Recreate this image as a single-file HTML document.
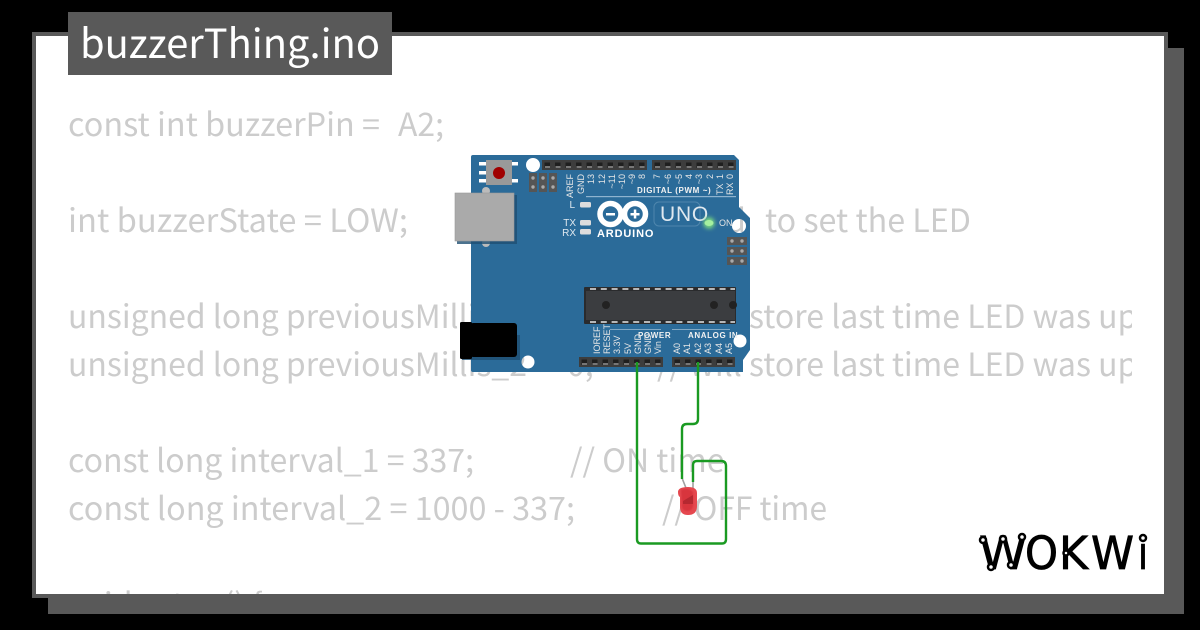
<!DOCTYPE html>
<html><head><meta charset="utf-8"><style>
html,body{margin:0;padding:0;background:#000;width:1200px;height:630px;overflow:hidden}
svg{display:block}
.c{font-family:"Noto Sans CJK JP","Liberation Sans",sans-serif;font-size:32px;fill:#ccc}
.l{font-family:"Liberation Sans",sans-serif;font-size:9px;fill:#e6e6e6}
.s{font-family:"Liberation Sans",sans-serif;font-size:10px;fill:#dfe8ef}
.b{font-family:"Liberation Sans",sans-serif;font-size:8px;font-weight:bold;fill:#f2f2f2;letter-spacing:.6px}
.w{font-family:"DejaVu Sans",sans-serif;font-size:45px;fill:#000;stroke:#000;stroke-width:.8}
</style></head><body>
<svg width="1200" height="630" viewBox="0 0 1200 630" xmlns="http://www.w3.org/2000/svg">
<defs>
<clipPath id="cp"><rect x="36" y="36" width="1096" height="558"/></clipPath>
<filter id="gl" x="-100%" y="-100%" width="300%" height="300%"><feGaussianBlur stdDeviation="2"/></filter>
<filter id="sb" x="-20%" y="-20%" width="140%" height="140%"><feGaussianBlur stdDeviation=".8"/></filter>
<g id="pin"><rect x="0" y="0" width="10.5" height="10" fill="#3d3d3d"/><rect x="2.5" y="2.5" width="5.5" height="5.5" fill="#1f1f1f"/><rect x="3" y="6" width="5" height="2" fill="#777"/></g>
</defs>
<rect width="1200" height="630" fill="#000"/>
<rect x="48" y="48" width="1136" height="566" fill="#595959"/>
<rect x="32" y="32" width="1136" height="566" fill="#595959"/>
<rect x="36" y="36" width="1128" height="558" fill="#fff"/>
<rect x="68" y="12" width="324" height="63" fill="#595959"/>
<text x="80" y="58" font-family="'Noto Sans CJK JP','Liberation Sans',sans-serif" font-size="40" fill="#fff" textLength="300" lengthAdjust="spacingAndGlyphs">buzzerThing.ino</text>
<g clip-path="url(#cp)" class="c">
<text x="68" y="136" textLength="312" lengthAdjust="spacingAndGlyphs">const int buzzerPin =</text>
<text x="398" y="136" textLength="46" lengthAdjust="spacingAndGlyphs">A2;</text>
<text x="68" y="232" textLength="340" lengthAdjust="spacingAndGlyphs">int buzzerState = LOW;</text>
<text x="746" y="232" text-anchor="end">used</text>
<text x="765" y="232" textLength="206" lengthAdjust="spacingAndGlyphs">to set the LED</text>
<text x="68" y="328" textLength="459" lengthAdjust="spacingAndGlyphs">unsigned long previousMillis_1</text>
<text x="749" y="328">store last time LED was updated</text>
<text x="68" y="376" textLength="459" lengthAdjust="spacingAndGlyphs">unsigned long previousMillis_2</text>
<text x="567" y="376">0;</text>
<text x="657" y="376">// will</text>
<text x="749" y="376">store last time LED was updated</text>
<text x="68" y="472" textLength="406" lengthAdjust="spacingAndGlyphs">const long interval_1 = 337;</text>
<text x="570" y="472">// ON time</text>
<text x="68" y="520" textLength="507" lengthAdjust="spacingAndGlyphs">const long interval_2 = 1000 - 337;</text>
<text x="662" y="520" textLength="165" lengthAdjust="spacingAndGlyphs">// OFF time</text>
<text x="68" y="616">void setup() {</text>
</g>

<!-- board -->
<path fill-rule="evenodd" d="M473 155H734L739 160V207L750 218V350L743 360V372H473Q471 372 471 370V157Q471 155 473 155Z
M526 165a7 7 0 1 0 14 0a7 7 0 1 0 -14 0Z
M732 226a7 7 0 1 0 14 0a7 7 0 1 0 -14 0Z
M733.5 341a6.5 6.5 0 1 0 13 0a6.5 6.5 0 1 0 -13 0Z
M521.5 362a6.5 6.5 0 1 0 13 0a6.5 6.5 0 1 0 -13 0Z" fill="#2b6b99"/>
<!-- usb -->
<circle cx="486" cy="191" r="4" fill="#bbb"/><circle cx="486" cy="243" r="4" fill="#bbb"/>
<rect x="457" y="195" width="60" height="49" fill="#1f4f72" opacity=".8"/>
<rect x="455" y="193" width="59" height="48" fill="#aaa" stroke="#999" stroke-width=".6"/>
<!-- jack -->
<rect x="462" y="335" width="58" height="25" fill="#1f4f72" opacity=".8"/>
<rect x="460" y="322" width="12" height="37" rx="1.5" fill="#000"/>
<rect x="470" y="323" width="47" height="34" rx="3" fill="#000"/>
<!-- reset -->
<g fill="#fff"><rect x="479" y="162" width="7" height="3.5"/><rect x="479" y="171" width="7" height="3.5"/><rect x="479" y="179" width="7" height="3.5"/><rect x="512" y="162" width="6" height="3.5"/><rect x="512" y="179" width="6" height="3.5"/></g>
<rect x="486" y="160" width="26" height="25" fill="#999"/>
<circle cx="499" cy="173" r="6" fill="#a00000"/>
<!-- icsp left -->
<g fill="#555"><rect x="529" y="173" width="8" height="19"/><rect x="539" y="173" width="8" height="19"/><rect x="549" y="173" width="8" height="19"/></g>
<g fill="#aaa"><circle cx="533" cy="178" r="1.7"/><circle cx="533" cy="187" r="1.7"/><circle cx="543" cy="178" r="1.7"/><circle cx="543" cy="187" r="1.7"/><circle cx="553" cy="178" r="1.7"/><circle cx="553" cy="187" r="1.7"/></g>
<!-- icsp right -->
<g fill="#555"><rect x="727" y="237" width="20" height="8"/><rect x="727" y="247" width="20" height="8"/><rect x="727" y="257" width="20" height="8"/></g>
<g fill="#aaa"><circle cx="732" cy="241" r="1.7"/><circle cx="742" cy="241" r="1.7"/><circle cx="732" cy="251" r="1.7"/><circle cx="742" cy="251" r="1.7"/><circle cx="732" cy="261" r="1.7"/><circle cx="742" cy="261" r="1.7"/></g>
<!-- headers -->
<g>
<use href="#pin" x="542" y="160"/><use href="#pin" x="552.5" y="160"/><use href="#pin" x="563" y="160"/><use href="#pin" x="573.5" y="160"/><use href="#pin" x="584" y="160"/><use href="#pin" x="594.5" y="160"/><use href="#pin" x="605" y="160"/><use href="#pin" x="615.5" y="160"/><use href="#pin" x="626" y="160"/><use href="#pin" x="636.5" y="160"/>
<use href="#pin" x="652" y="160"/><use href="#pin" x="662.5" y="160"/><use href="#pin" x="673" y="160"/><use href="#pin" x="683.5" y="160"/><use href="#pin" x="694" y="160"/><use href="#pin" x="704.5" y="160"/><use href="#pin" x="715" y="160"/><use href="#pin" x="725.5" y="160"/>
<use href="#pin" x="579" y="357"/><use href="#pin" x="589.5" y="357"/><use href="#pin" x="600" y="357"/><use href="#pin" x="610.5" y="357"/><use href="#pin" x="621" y="357"/><use href="#pin" x="631.5" y="357"/><use href="#pin" x="642" y="357"/><use href="#pin" x="652.5" y="357"/>
<use href="#pin" x="672" y="357"/><use href="#pin" x="682.5" y="357"/><use href="#pin" x="693" y="357"/><use href="#pin" x="703.5" y="357"/><use href="#pin" x="714" y="357"/><use href="#pin" x="724.5" y="357"/>
</g>
<!-- digital labels -->
<g class="l" text-anchor="end">
<text transform="translate(573,174) rotate(-90)">AREF</text>
<text transform="translate(584,174) rotate(-90)">GND</text>
<text transform="translate(594,174) rotate(-90)">13</text>
<text transform="translate(605,174) rotate(-90)">12</text>
<text transform="translate(615,174) rotate(-90)">~11</text>
<text transform="translate(625,174) rotate(-90)">~10</text>
<text transform="translate(635,174) rotate(-90)">~9</text>
<text transform="translate(645,174) rotate(-90)">8</text>
<text transform="translate(660,174) rotate(-90)">7</text>
<text transform="translate(671,174) rotate(-90)">~6</text>
<text transform="translate(682,174) rotate(-90)">~5</text>
<text transform="translate(692,174) rotate(-90)">4</text>
<text transform="translate(702,174) rotate(-90)">~3</text>
<text transform="translate(713,174) rotate(-90)">2</text>
<text transform="translate(723,174) rotate(-90)">1</text>
<text transform="translate(733,174) rotate(-90)">0</text>
</g>
<g class="l">
<text transform="translate(723,195) rotate(-90)">TX</text>
<text transform="translate(733,195) rotate(-90)">RX</text>
</g>
<text x="637" y="193" class="b">DIGITAL (PWM ~)</text>
<rect x="586" y="196" width="150" height="1.2" fill="#8fb3cf"/>
<!-- status leds -->
<g class="s" text-anchor="end"><text x="575" y="208">L</text><text x="576" y="226">TX</text><text x="576" y="236">RX</text></g>
<g fill="#ddd"><rect x="580" y="202" width="11" height="5.5" rx="1.5"/><rect x="580" y="220" width="11" height="5.5" rx="1.5"/><rect x="580" y="229" width="11" height="5.5" rx="1.5"/></g>
<!-- logo -->
<g fill="none" stroke="#fff" stroke-width="5.5"><circle cx="610.5" cy="214" r="10.5"/><circle cx="635" cy="214" r="10.5"/></g>
<g fill="#fff"><rect x="606" y="213" width="9" height="2.5"/><rect x="630.5" y="213" width="9" height="2.5"/><rect x="633.8" y="209.5" width="2.5" height="9"/></g>
<text x="597" y="237" font-family="'Liberation Sans',sans-serif" font-size="11" font-weight="bold" fill="#fff" letter-spacing=".85">ARDUINO</text>
<rect x="654" y="202" width="46" height="24" rx="5" fill="none" stroke="#4f86ad" stroke-width="1"/>
<text x="660" y="221" font-family="'Liberation Sans',sans-serif" font-size="21" fill="#dfe8ef" letter-spacing=".8">UNO</text>
<circle cx="709" cy="223" r="5.5" fill="#7fe07f" filter="url(#gl)"/>
<ellipse cx="709" cy="223" rx="4.5" ry="3" fill="#a5f0a0"/>
<text x="719" y="226" class="l">ON</text>
<!-- chip -->
<rect x="584" y="287" width="152" height="37" rx="1" fill="#2a2b2d"/>
<rect x="586" y="291" width="149" height="29" fill="#3b3d40"/>
<g stroke="#e6e6e6" stroke-width="1.6" stroke-dasharray="6 4.8"><line x1="590" y1="289" x2="735" y2="289"/><line x1="590" y1="322" x2="735" y2="322"/></g>
<g fill="#222"><circle cx="606" cy="305" r="4"/><circle cx="714" cy="305" r="4"/><circle cx="733" cy="305" r="4"/></g>
<!-- lower labels -->
<g stroke="#9fbdd3" stroke-width=".8"><line x1="610" y1="329.5" x2="661" y2="329.5"/><line x1="672" y1="329.5" x2="730" y2="329.5"/></g>
<text x="638" y="338" class="b">POWER</text>
<text x="688" y="338" class="b">ANALOG IN</text>
<g class="l">
<text transform="translate(600,354) rotate(-90)">IOREF</text>
<text transform="translate(610,354) rotate(-90)">RESET</text>
<text transform="translate(620,354) rotate(-90)">3.3V</text>
<text transform="translate(631,354) rotate(-90)">5V</text>
<text transform="translate(641,354) rotate(-90)">GND</text>
<text transform="translate(651,354) rotate(-90)">GND</text>
<text transform="translate(661,354) rotate(-90)">Vin</text>
<text transform="translate(680,354) rotate(-90)">A0</text>
<text transform="translate(690,354) rotate(-90)">A1</text>
<text transform="translate(701,354) rotate(-90)">A2</text>
<text transform="translate(711,354) rotate(-90)">A3</text>
<text transform="translate(722,354) rotate(-90)">A4</text>
<text transform="translate(732,354) rotate(-90)">A5</text>
</g>
<!-- led -->
<g stroke="#a0a0a0" stroke-width="1.6" fill="none"><path d="M682 478L686 488"/><path d="M693 480V488"/></g>
<path d="M678 492Q678 487 688 487Q697 487 697 493V506Q697 515 688 515Q680 515 680 507V497Q678 496 678 492Z" fill="#e5484f"/>
<path d="M681 490Q688 487 693 492V505Q693 511 687 511Q682 511 682 505Z" fill="#d8343c" filter="url(#sb)"/>
<path d="M683 501L693 495V504H683Z" fill="#b52830"/>
<!-- wires -->
<g fill="none" stroke="#1a9a22" stroke-width="2.4">
<path d="M637 362V539Q637 543.5 641 543.5H722Q726 543.5 726 539V466Q726 461 721 461H697Q693 461 693 465V482"/>
<path d="M698 362V419Q698 424 693 424H687Q682 424 682 429V479"/>
</g>
<!-- wokwi wordmark -->
<g class="w">
<text x="979" y="569" textLength="48" lengthAdjust="spacingAndGlyphs">W</text>
<text x="1025" y="569" textLength="33" lengthAdjust="spacingAndGlyphs">O</text>
<text x="1059" y="569" textLength="29" lengthAdjust="spacingAndGlyphs">K</text>
<text x="1091" y="569" textLength="43" lengthAdjust="spacingAndGlyphs">W</text>
<text x="1138" y="569" textLength="10" lengthAdjust="spacingAndGlyphs">ı</text>
</g>
<g fill="#fff" stroke="#000" stroke-width="2.5"><circle cx="983" cy="540" r="3"/><circle cx="1003" cy="539" r="3"/><circle cx="1022" cy="537" r="3"/><circle cx="991" cy="567" r="3"/><circle cx="1011" cy="565" r="3"/><circle cx="1066" cy="553" r="2.5"/><circle cx="1143" cy="538" r="3"/></g>
</svg>
</body></html>
